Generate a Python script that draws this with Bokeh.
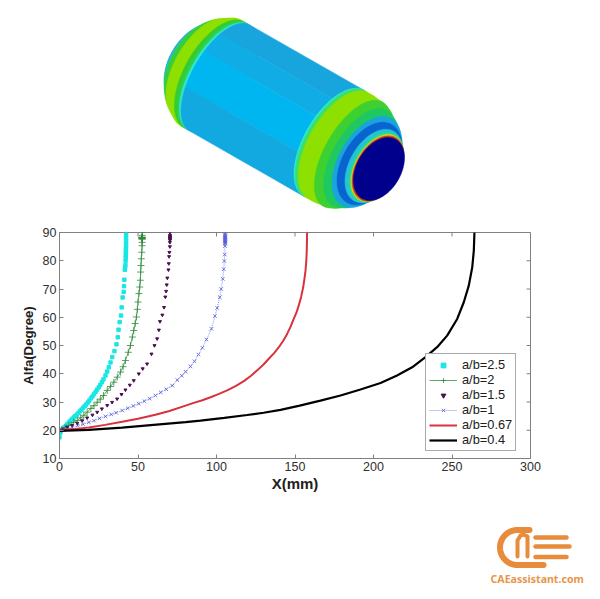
import numpy as np
from bokeh.plotting import figure
from bokeh.layouts import column, row, Spacer
from bokeh.models import Legend, LegendItem, Range1d, FixedTicker
from bokeh.core.properties import value
from bokeh.embed import file_html
from bokeh.resources import INLINE

labels = ["a/b=2.5", "a/b=2", "a/b=1.5", "a/b=1", "a/b=0.67", "a/b=0.4"]
x_ticks = [0, 50, 100, 150, 200, 250, 300]
y_ticks = [10, 20, 30, 40, 50, 60, 70, 80, 90]

x_25 = [42.4,42.4,42.4,42.4,42.4,42.4,42.3,42.3,42.3,42.2,42.2,42.1,42,41.8,41.6,41.3,41.1,40.9,40.2,39.6,39.2,38.3,37.6,37.1,36.3,35,33.6,32.5,31.4,30.4,29.3,28,27,26,25,24,23,22,21,20,19,18,17,16,15,14,13,12,11,10,9,8,7,6,5,4,3,2,1,0.5,0]
a_25 = [90,89,88,87,86,85,84.2,83.4,82.6,81.8,81,80,78.5,77.6,76.8,73.3,71,69,67,63.5,60.6,58.3,55.6,52.9,50.4,48,45.9,44,42.3,40.8,39.4,38,37,36.1,35.2,34.4,33.6,32.8,32,31.3,30.5,29.8,29.1,28.5,27.9,27.3,26.7,26.1,25.5,25,24.5,24,23.4,22.8,22.2,21.6,21,20.5,20,19,17.5]

x_2 = [52.8,52.7,52.6,52.6,52.6,52.6,52.6,52.6,52.6,52.6,52.6,52.4,52.1,51.9,51.7,51.5,51.1,50.6,50,49.6,49,48.2,47.3,46.4,45.2,43.8,42,40.5,38.9,36.8,34.6,32.5,30.4,28,26,24,22,20,17.6,15.5,13.5,11.3,9,5.9,3.5,1.5,0]
a_2 = [90,89,88.4,88.2,88.1,88,87.9,87.8,87.6,86.5,85.3,83,80.7,78.3,76,73.1,70.7,68.4,65.4,62.8,60.1,57.8,55.3,53,50,47.6,44.7,42.5,40.6,38.8,37,35.5,34.1,32.3,31,29.9,28.7,27.7,26.4,25.3,24.4,23.5,22.8,21.7,20.9,20.3,20]

x_15 = [70.4,70.4,70.4,70.4,70.4,70.4,70.4,70.4,70.3,70.3,70,69.8,69.6,69.4,68.7,68.3,67.9,67.4,66.6,65.5,64,63.3,62.2,60.5,58.6,55.8,53,50.5,47.3,44.8,42,39.5,36.7,33.5,30.4,27,24,21,17.6,14.5,11.3,8,4.9,2,0]
a_15 = [90,89,88.6,88.4,88.1,87.9,87.6,87.3,86.5,85,83,81.5,79,76.8,73.9,71.5,69.2,67.2,63.5,60.8,58.5,55.5,52.4,50,47,43.5,41.8,40,37.6,36,34.3,32.7,31.1,29.9,28.8,27.6,26.4,25.4,24.4,23.4,22.5,21.7,21.1,20.4,20]

x_1 = [105.5,105.5,105.5,105.5,105.5,105.5,105.5,105.5,105.5,105.5,105.5,105.5,105.5,105.4,105.2,105,104.6,104,103,102.1,100.4,99,96.8,93.6,91,88.5,86,83.4,80.3,77.9,75,71.8,68,64.5,61.1,57.5,54,50.5,47,43.5,39.9,36,33,29.3,25.5,22,18.7,15,11.5,8.1,5,2,0]
a_1 = [90,89.5,89,88.7,88.4,88.1,87.8,87.5,87.2,86.9,86.6,86.3,86,85.2,82.2,79.9,77,73.6,70,67.1,63.3,60.4,55.9,52.1,49.2,46.8,44.4,42.6,40.7,39.3,37.8,35.8,34.5,33.4,32.3,31.2,30.3,29.4,28.6,27.8,27,26.2,25.6,24.9,24.2,23.4,22.8,22.1,21.6,21,20.5,20.2,20]

x_067 = [157.7,157.6,157.5,157.2,156.7,156,155.2,153.9,152.4,150.9,149.2,147.2,145,142.5,139.7,136.7,133.3,129.8,125.9,121.8,117.4,112.4,106.8,101.6,96.2,91,85.5,80.3,70,61.1,50,39.9,29,18.6,9,0]
a_067 = [90.1,86.5,83.6,80,76.5,73.5,70.6,67.2,64.2,61.6,59.4,56.7,54.1,51.7,49.4,47.3,45.3,43.2,41.2,39.2,37.4,35.7,34.1,32.9,31.7,30.6,29.7,28.7,26.8,25.5,24.1,23,21.9,21,20.4,20]

x_04 = [0,18.6,39.9,60,80.3,89.8,105,119.5,130,140.8,153,166.2,179,191.7,204.5,215,224.6,233.1,240.5,246.9,253.3,257.5,260.7,262.9,263.9,264.3]
a_04 = [19.8,20.1,20.9,21.9,22.9,23.4,24.4,25.4,26.2,27.2,28.7,30.5,32.3,34.4,36.7,39.4,42.3,45.9,49.4,53.5,59.4,65.3,71.2,77.7,83.6,90.1]

FONT = "Liberation Sans"


def blank(w, h, x0, x1, y0, y1, left=0, right=0):
    f = figure(width=w, height=h, x_range=Range1d(x0, x1), y_range=Range1d(y1, y0),
               output_backend="svg", toolbar_location=None,
               x_axis_location=None, y_axis_location=None,
               min_border_left=left, min_border_right=right, min_border_top=0, min_border_bottom=0,
               outline_line_color=None)
    f.grid.visible = False
    return f


# ---------- vessel illustration (page pixel space) ----------
top = blank(600, 224, 59, 530, 0, 224, left=59, right=70)
C_R = np.array([333.3, 142.7])
C_L = np.array([219.0, 77.4])
U = np.array([0.868, 0.496])
V = np.array([-0.496, 0.868])
t = np.linspace(0, 2 * np.pi, 90)


def ell(c, s, r, k, col):
    p = c + s * U
    xs = p[0] + k * r * np.cos(t) * U[0] + r * np.sin(t) * V[0]
    ys = p[1] + k * r * np.cos(t) * U[1] + r * np.sin(t) * V[1]
    top.patch(xs, ys, fill_color=col, line_color=col, line_width=0.5)


for s, r, k, col in [(-29, 42, .6, "#1b8ee0"), (-28, 44, .58, "#22c8b0"), (-26, 48, .54, "#38cc40"),
                     (-23, 52, .52, "#38cc40"), (-20, 55, .5, "#8ee000"), (-15, 58, .5, "#8ee000"),
                     (-10, 61, .5, "#8ee000"), (-6, 61, .49, "#34cc30"),
                     (-3, 61, .48, "#30d050"), (-1, 61, .47, "#30e8d0")]:
    ell(C_L, s, r, k, col)

strips = [(-61, -38, "#18a4dc"), (-38, -15, "#10ace6"), (-15, 25, "#00b6f0"), (25, 61, "#12a8e0")]
for a, b, col in strips:
    q = np.array([C_L + a * V, C_R + a * V, C_R + b * V, C_L + b * V])
    top.patch(q[:, 0], q[:, 1], fill_color=col, line_color=col, line_width=0.5)
    ang = np.linspace(np.arcsin(a / 61), np.arcsin(b / 61), 14)
    xa = -.45 * 61 * np.cos(ang)
    vv = 61 * np.sin(ang)
    P = C_L[None, :] + xa[:, None] * U + vv[:, None] * V
    P = np.vstack([P, C_L + b * V, C_L + a * V])
    top.patch(P[:, 0], P[:, 1], fill_color=col, line_color=col, line_width=0.5)

for s, r, k, col in [(0, 61, .49, "#30e8d0"), (1, 61, .48, "#38e070"), (5, 61, .49, "#8ee000"),
                     (10, 61, .5, "#8ee000"), (13, 60.5, .5, "#8ee000"), (17, 60, .48, "#8ee000"),
                     (22, 60, .47, "#3ed030"), (26, 58, .5, "#3ed030"),
                     (30, 55, .5, "#20c860"), (34, 53, .52, "#20c860"),
                     (38, 50, .56, "#1aa4dc"), (40, 47, .6, "#1aa4dc"),
                     (41, 45, .6, "#0a64d0"), (44, 42, .6, "#0a64d0"),
                     (46, 40, .6, "#22c4d8"), (49, 38, .6, "#34d880"), (50, 36.5, .6, "#d8d820"),
                     (51, 35.5, .62, "#d03818"), (52, 34, .65, "#00008c")]:
    ell(C_R, s, r, k, col)

# ---------- chart ----------
p = figure(width=600, height=271, x_range=Range1d(0, 300), y_range=Range1d(10, 90),
           output_backend="svg", toolbar_location=None,
           min_border_left=59, min_border_right=70, min_border_top=8, min_border_bottom=37,
           outline_line_color="#808080")
p.grid.visible = False

r_c = p.scatter(x_25, a_25, marker="square", size=3.4, color="#19e6e6")
l_g = p.line(x_2, a_2, line_color="#3f8f4a", line_width=0.8)
r_g = p.scatter(x_2, a_2, marker="cross", size=7, line_color="#2f8a3e", line_width=0.8, fill_color=None)
r_p = p.scatter(x_15, a_15, marker="inverted_triangle", size=3, color="#4a1050")
l_b = p.line(x_1, a_1, line_color="#6f78e0", line_width=0.8, line_dash="1 1")
r_b = p.scatter(x_1, a_1, marker="x", size=5, line_color="#4f58d8", line_width=0.8, fill_color=None)
l_r = p.line(x_067, a_067, line_color="#d8323c", line_width=2)
l_k = p.line(x_04, a_04, line_color="#000000", line_width=2.2)

# mirrored inward ticks on the top and right edges
p.segment(x_ticks, [90] * 7, x_ticks, [88.6] * 7, line_color="#808080", line_width=1)
p.segment([300] * 9, y_ticks, [297.5] * 9, y_ticks, line_color="#808080", line_width=1)

p.xaxis.axis_label = "X(mm)"
p.yaxis.axis_label = "Alfa(Degree)"
for ax, size in [(p.xaxis[0], "15px"), (p.yaxis[0], "13.2px")]:
    ax.major_label_text_font = FONT
    ax.major_label_text_font_size = "12.5px"
    ax.major_label_text_color = "#303030"
    ax.axis_label_text_font = FONT
    ax.axis_label_text_font_size = size
    ax.axis_label_text_font_style = "bold"
    ax.axis_label_text_color = "#202020"
    ax.major_tick_in = 4
    ax.major_tick_out = 0
    ax.minor_tick_in = 0
    ax.minor_tick_out = 0
    ax.axis_line_color = "#808080"
    ax.major_tick_line_color = "#808080"
p.xaxis[0].axis_label_standoff = 1
p.yaxis[0].axis_label_standoff = 4
p.xaxis[0].major_label_standoff = 3
p.yaxis[0].major_label_standoff = 3
p.xaxis[0].ticker = FixedTicker(ticks=x_ticks)
p.yaxis[0].ticker = FixedTicker(ticks=y_ticks)

leg = Legend(items=[LegendItem(label=labels[0], renderers=[r_c]),
                    LegendItem(label=labels[1], renderers=[l_g, r_g]),
                    LegendItem(label=labels[2], renderers=[r_p]),
                    LegendItem(label=labels[3], renderers=[l_b, r_b]),
                    LegendItem(label=labels[4], renderers=[l_r]),
                    LegendItem(label=labels[5], renderers=[l_k])],
             location=(366, 7), orientation="vertical",
             label_text_font=FONT, label_text_font_size="12.8px", label_text_color="#202020",
             label_height=12, glyph_height=12, glyph_width=28, spacing=0, padding=3, margin=0,
             label_standoff=5, border_line_color="#555555", border_line_width=1, background_fill_alpha=1)
p.add_layout(leg, "center")

# ---------- logo (page pixel space) ----------
logo = blank(115, 100, 485, 600, 495, 595)
ORANGE = "#e88c3c"
th = np.linspace(np.deg2rad(90), np.deg2rad(270), 40)
cx, cy, rad = 517.0, 547.0, 17.5
xs = list(cx + rad * np.cos(th))
ys = list(cy - rad * np.sin(th))
logo.line(xs, ys, line_color=ORANGE, line_width=6, line_cap="round")
logo.line([xs[0], 529], [ys[0], ys[0]], line_color=ORANGE, line_width=6, line_cap="round")
logo.line([xs[-1], 543], [ys[-1], ys[-1]], line_color=ORANGE, line_width=6, line_cap="round")
logo.line([517, 517, 520, 523, 527, 527], [556, 540, 535, 534, 536, 556], line_color=ORANGE, line_width=4,
          line_cap="round", line_join="round")
for (a, b, y) in [(535, 566, 537), (535, 569, 546), (535, 566, 556.5)]:
    logo.line([a, b], [y, y], line_color=ORANGE, line_width=4.5, line_cap="round")
logo.text([490], [578], text=["CAEassistant.com"], text_font=value("Noto Sans"), text_font_style="bold",
          text_font_size="10.6px", text_color="#e8964a", text_baseline="middle", text_align="left")

layout = column(top, p, row(Spacer(width=485, height=100), logo, spacing=0), spacing=0)
open("out.html", "w").write(file_html(layout, INLINE))
